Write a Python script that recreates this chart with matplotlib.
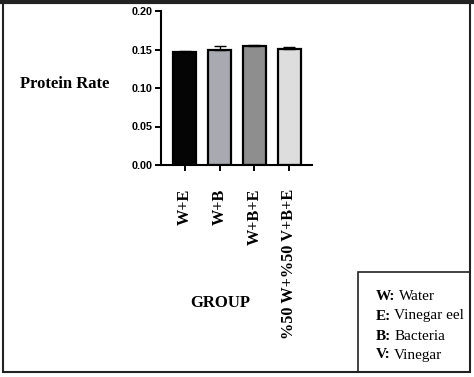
import matplotlib.pyplot as plt
from matplotlib.patches import Rectangle
from matplotlib.lines import Line2D

groups = ['W+E', 'W+B', 'W+B+E', '%50 W+%50 V+B+E']
protein = [0.147, 0.150, 0.154, 0.151]
err = [0.0005, 0.005, 0.0015, 0.002]
colors = ['#050505', '#a9a9b1', '#8e8e8e', '#dddddd']
key_letters = ['W:', 'E:', 'B:', 'V:']
key_names = ['Water', 'Vinegar eel', 'Bacteria', 'Vinegar']

W, H = 474, 377
fig = plt.figure(figsize=(W / 100, H / 100), dpi=100)

def fx(px):
    return px / W

def fy(py):
    return 1 - py / H

ax = fig.add_axes([fx(161), fy(165), fx(312) - fx(161), fy(11) - fy(165)])
x = list(range(len(groups)))
ax.bar(x, protein, width=0.66, color=colors, edgecolor='black', linewidth=1.6, zorder=2)
ax.errorbar(x, protein, yerr=[[0] * 4, err], fmt='none', ecolor='black',
            elinewidth=1.0, capsize=4, capthick=1.0, zorder=3)
ax.set_ylim(0, 0.20)
ax.set_xlim(-0.69, 3.66)
ax.set_yticks([0.00, 0.05, 0.10, 0.15, 0.20])
ax.set_yticklabels(['0.00', '0.05', '0.10', '0.15', '0.20'],
                   fontfamily='Liberation Sans', fontweight='bold', fontsize=7.8)
ax.set_xticks(x)
ax.set_xticklabels(groups, rotation=90, fontfamily='Liberation Serif',
                   fontweight='bold', fontsize=11.7, va='top')
ax.tick_params(axis='both', direction='out', length=4, width=1.4, pad=2)
ax.tick_params(axis='x', pad=13)
for s in ['top', 'right']:
    ax.spines[s].set_visible(False)
for s in ['left', 'bottom']:
    ax.spines[s].set_linewidth(1.5)

fig.text(fx(20), fy(84), 'Protein Rate', fontfamily='Liberation Serif',
         fontweight='bold', fontsize=12, va='center', ha='left')
fig.text(fx(190), fy(303), 'GROUP', fontfamily='Liberation Serif',
         fontweight='bold', fontsize=12, va='center', ha='left')

# outer frame
fig.patches.append(Rectangle((fx(3), fy(372)), fx(470) - fx(3), fy(2) - fy(372),
                             transform=fig.transFigure, fill=False,
                             edgecolor='#222222', linewidth=1.5))
fig.lines.append(Line2D([0, 1], [fy(1.5), fy(1.5)], transform=fig.transFigure,
                        color='#222222', linewidth=3))

# key box
fig.patches.append(Rectangle((fx(358), fy(372)), fx(470) - fx(358), fy(272) - fy(372),
                             transform=fig.transFigure, fill=False,
                             edgecolor='#222222', linewidth=1.2))
ys = [296, 316, 336, 355]
for yy, k, n in zip(ys, key_letters, key_names):
    t = fig.text(fx(376), fy(yy), k, fontfamily='Liberation Serif', fontweight='bold',
                 fontsize=11, va='center', ha='left')
    fig.canvas.draw()
    bb = t.get_window_extent()
    fig.text(bb.x1 / W + fx(3), fy(yy), n, fontfamily='Liberation Serif',
             fontsize=11, va='center', ha='left')

fig.savefig('out.png', dpi=100)
